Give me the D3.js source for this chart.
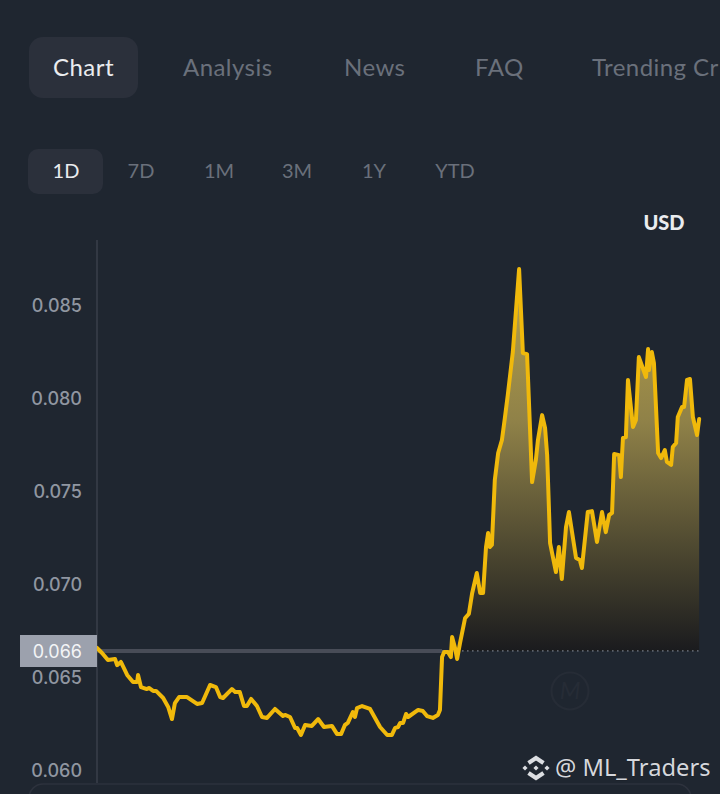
<!DOCTYPE html>
<html>
<head>
<meta charset="utf-8">
<script src="https://cdn.jsdelivr.net/npm/d3@7"></script>
<style>
  html, body { margin: 0; padding: 0; background: #1f2630; }
  svg { display: block; }
</style>
</head>
<body>
<script>
// page tabs and range buttons
var tabs = ['Chart', 'Analysis', 'News', 'FAQ', 'Trending Cr']
var ranges = ['1D', '7D', '1M', '3M', '1Y', 'YTD']
var tickValues = [0.06, 0.065, 0.07, 0.075, 0.08, 0.085]
var openPrice = 0.0664
var crossMinute = 824

// minutes since the start of the day
var minutes = [
  0, 12, 26, 43, 48, 57, 72, 86, 96, 98, 105, 119, 124, 134, 141, 158, 170, 179, 186, 196,
  215, 239, 251, 270, 284, 294, 301, 322, 330, 339, 341, 351, 358, 368, 382, 394, 406, 425, 444, 449,
  461, 473, 478, 487, 497, 513, 528, 542, 561, 573, 583, 592, 599, 611, 616, 621, 633, 652, 676, 693,
  704, 712, 719, 724, 731, 738, 743, 767, 778, 788, 802, 814, 819, 824, 829, 838, 845, 848, 855, 860,
  867, 879, 888, 896, 907, 915, 922, 929, 934, 938, 943, 950, 958, 967, 974, 981, 993, 1008, 1017, 1027,
  1034, 1039, 1048, 1053, 1063, 1070, 1075, 1082, 1096, 1103, 1110, 1120, 1127, 1144, 1153, 1158, 1172, 1182, 1194, 1206,
  1215, 1223, 1230, 1235, 1247, 1251, 1256, 1263, 1268, 1280, 1287, 1294, 1311, 1316, 1318, 1325, 1330, 1340, 1347, 1356,
  1361, 1371, 1375, 1383, 1387, 1397, 1402, 1409, 1416, 1423, 1433, 1438
]
var prices = [
  0.06656, 0.06629, 0.06591, 0.06597, 0.06564, 0.06581, 0.06511, 0.06473, 0.06473, 0.06511, 0.06446, 0.06435, 0.06441, 0.06425, 0.06425, 0.06387, 0.06339, 0.06274, 0.0636, 0.06392,
  0.06392, 0.06355, 0.0636, 0.06457, 0.06446, 0.06392, 0.06387, 0.06435, 0.06419, 0.06419, 0.06419, 0.06344, 0.06344, 0.06382, 0.06344, 0.06285, 0.0628, 0.06328, 0.0629, 0.06296,
  0.06285, 0.06226, 0.06226, 0.06188, 0.06242, 0.06237, 0.06274, 0.06231, 0.06237, 0.06194, 0.06194, 0.06242, 0.06253, 0.06312, 0.06285, 0.06333, 0.06344, 0.06328, 0.06231, 0.06188,
  0.06188, 0.06226, 0.06231, 0.06253, 0.06253, 0.06301, 0.06285, 0.06323, 0.06317, 0.0629, 0.0628, 0.06296, 0.06323, 0.06607, 0.06634, 0.06634, 0.06607, 0.06715, 0.06656, 0.06597,
  0.06683, 0.06817, 0.06839, 0.06952, 0.07059, 0.06952, 0.06952, 0.07199, 0.07274, 0.07199, 0.0721, 0.07559, 0.07704, 0.07774, 0.07892, 0.08016, 0.08247, 0.08693, 0.08242, 0.08236,
  0.07839, 0.07548, 0.07667, 0.07774, 0.07908, 0.07839, 0.07693, 0.0722, 0.07064, 0.07199, 0.07027, 0.07306, 0.07387, 0.0714, 0.07129, 0.07086, 0.07387, 0.07392, 0.07226, 0.07387,
  0.07279, 0.07371, 0.07382, 0.07699, 0.07693, 0.07575, 0.07785, 0.0779, 0.08097, 0.07844, 0.07882, 0.0822, 0.08113, 0.08263, 0.0815, 0.08247, 0.08188, 0.07704, 0.07677, 0.0772,
  0.07656, 0.0764, 0.07736, 0.07758, 0.07898, 0.07951, 0.07951, 0.08097, 0.08102, 0.07898, 0.07801, 0.07887
]

var series = minutes.map(function (m, i) { return { minute: m, price: prices[i] } })

var fullWidth = 720
var fullHeight = 794

var x = d3.scaleLinear().domain([0, 1440]).range([97, 700])
var y = d3.scaleLinear().domain([0.06, 0.085]).range([770, 305])

var svg = d3.select('body').append('svg')
  .attr('width', fullWidth)
  .attr('height', fullHeight)

svg.append('rect').attr('width', fullWidth).attr('height', fullHeight).attr('fill', '#1f2630')

// tabs row
svg.append('rect').attr('x', 29).attr('y', 37).attr('width', 109).attr('height', 61).attr('rx', 14).attr('fill', '#2b303b')
var tabX = [53, 183, 344, 475, 592]
svg.selectAll('.tab').data(tabs).enter().append('text')
  .attr('class', 'tab')
  .attr('x', function (d, i) { return tabX[i] })
  .attr('y', 76)
  .attr('font-family', 'Lato')
  .attr('font-size', 24)
  .attr('letter-spacing', 0.45)
  .attr('fill', function (d, i) { return i == 0 ? '#eaecef' : '#6a707b' })
  .text(function (d) { return d })

// range buttons
svg.append('rect').attr('x', 28).attr('y', 149).attr('width', 75).attr('height', 45).attr('rx', 10).attr('fill', '#2b303b')
var rangeX = [66, 141, 219, 297, 374, 455]
svg.selectAll('.range').data(ranges).enter().append('text')
  .attr('class', 'range')
  .attr('x', function (d, i) { return rangeX[i] })
  .attr('y', 178)
  .attr('text-anchor', 'middle')
  .attr('font-family', 'Lato')
  .attr('font-size', 20)
  .attr('fill', function (d, i) { return i == 0 ? '#eaecef' : '#6a707b' })
  .text(function (d) { return d })

svg.append('text').attr('x', 664).attr('y', 230).attr('text-anchor', 'middle')
  .attr('font-family', 'Lato').attr('font-weight', 900).attr('font-size', 20).attr('fill', '#eaecef').text('USD')

// bottom card edge
svg.append('rect').attr('x', 29).attr('y', 784).attr('width', 662).attr('height', 40).attr('rx', 14)
  .attr('fill', 'none').attr('stroke', '#2d323d').attr('stroke-width', 1.5)

// faint coin mark
svg.append('circle').attr('cx', 570).attr('cy', 691).attr('r', 18.5).attr('fill', 'none').attr('stroke', '#262c36').attr('stroke-width', 2.2)
svg.append('text').attr('x', 570).attr('y', 699).attr('text-anchor', 'middle').attr('font-family', 'Lato')
  .attr('font-style', 'italic').attr('font-size', 24).attr('fill', '#262c36').text('M')

// area fill, only above the open price
var grad = svg.append('defs').append('linearGradient').attr('id', 'fillGrad')
  .attr('gradientUnits', 'userSpaceOnUse')
  .attr('x1', 0).attr('x2', 0).attr('y1', y(0.0869)).attr('y2', y(openPrice))
grad.append('stop').attr('offset', '0').attr('stop-color', '#b7a24a')
grad.append('stop').attr('offset', '0.4').attr('stop-color', '#8f8148')
grad.append('stop').attr('offset', '0.75').attr('stop-color', '#4a452f')
grad.append('stop').attr('offset', '1').attr('stop-color', '#1a1b1e')

svg.select('defs').append('clipPath').attr('id', 'aboveOpen').append('rect')
  .attr('x', x(0)).attr('y', 0).attr('width', x(1440) - x(0)).attr('height', y(openPrice))

var area = d3.area()
  .x(function (d) { return x(d.minute) })
  .y0(y(openPrice))
  .y1(function (d) { return y(d.price) })

svg.append('path').datum(series.filter(function (d) { return d.minute >= crossMinute }))
  .attr('d', area)
  .attr('fill', 'url(#fillGrad)')
  .attr('clip-path', 'url(#aboveOpen)')

// y axis
svg.append('line').attr('x1', 97).attr('x2', 97).attr('y1', 240).attr('y2', 783).attr('stroke', '#3a3f4a').attr('stroke-width', 1.5)

var yAxis = d3.axisLeft(y).tickValues(tickValues).tickSize(0).tickPadding(15).tickFormat(d3.format('.3f'))
var axisG = svg.append('g').attr('transform', 'translate(97,1)').call(yAxis)
axisG.select('.domain').remove()
axisG.selectAll('text')
  .attr('font-family', 'Inter')
  .attr('font-weight', 500)
  .attr('font-size', 18)
  .attr('fill', '#9096a1')

// open price lines
svg.append('line').attr('x1', x(0)).attr('x2', x(crossMinute)).attr('y1', y(openPrice)).attr('y2', y(openPrice))
  .attr('stroke', '#484c57').attr('stroke-width', 4)
svg.append('line').attr('x1', x(crossMinute)).attr('x2', x(1440)).attr('y1', y(openPrice)).attr('y2', y(openPrice))
  .attr('stroke', '#7a808b').attr('stroke-width', 1.2).attr('stroke-dasharray', '1.5,3.5')

// price line
var line = d3.line()
  .x(function (d) { return x(d.minute) })
  .y(function (d) { return y(d.price) })

svg.append('path').datum(series)
  .attr('d', line)
  .attr('fill', 'none')
  .attr('stroke', '#f0b90b')
  .attr('stroke-width', 4)
  .attr('stroke-linejoin', 'round')
  .attr('stroke-linecap', 'round')

// open price tag
svg.append('rect').attr('x', 20).attr('y', 635).attr('width', 77).attr('height', 32).attr('fill', '#9ca1ad')
svg.append('text').attr('x', 82).attr('y', y(openPrice) + 7).attr('text-anchor', 'end')
  .attr('font-family', 'Inter').attr('font-weight', 400).attr('font-size', 18).attr('fill', '#f3f4f6')
  .text(d3.format('.3f')(openPrice))

// watermark
var logo = svg.append('g').attr('transform', 'translate(536,768)')
logo.selectAll('path.big').data([-1, 1]).enter().append('path')
  .attr('class', 'big')
  .attr('d', function (d) { return 'M-7.5,' + (d * 5) + 'L0,' + (d * 10) + 'L7.5,' + (d * 5) })
  .attr('fill', 'none').attr('stroke', '#dcdee2').attr('stroke-width', 4.2)
logo.selectAll('path.small').data([-11, 0, 11]).enter().append('path')
  .attr('class', 'small')
  .attr('d', d3.symbol().type(d3.symbolSquare).size(13))
  .attr('transform', function (d) { return 'translate(' + d + ',0) rotate(45)' })
  .attr('fill', '#dcdee2')

svg.append('text').attr('x', 555).attr('y', 776)
  .attr('font-family', 'Noto Sans').attr('font-size', 23.7).attr('fill', '#d5d7dc')
  .attr('stroke', '#14181f').attr('stroke-width', 0.5).attr('paint-order', 'stroke')
  .text('@ ML_Traders')
</script>
</body>
</html>
